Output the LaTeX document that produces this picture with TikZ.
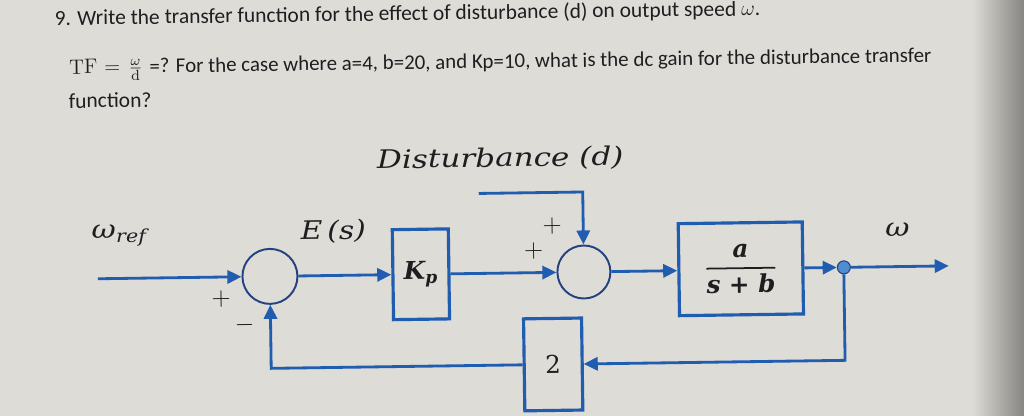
\documentclass[tikz,border=0pt]{standalone}
\usepackage{amssymb}
\usepackage{amsmath}
\usepackage{fontspec}
\usepackage{tikz}
\usetikzlibrary{arrows.meta}

\newfontfamily\qfont{Carlito}
\newfontfamily\mfont{DejaVu Serif}
\newcommand{\wide}[1]{\scalebox{1.17}[1]{#1}}

\definecolor{paper}{RGB}{222,220,214}
\definecolor{paperdark}{RGB}{135,133,130}
\definecolor{wireblue}{RGB}{32,92,176}
\definecolor{ringblue}{RGB}{36,66,130}
\definecolor{dotblue}{RGB}{80,140,210}
\definecolor{ink}{RGB}{30,30,32}

\begin{document}
\begin{tikzpicture}[x=0.2mm, y=-0.2mm,
    sig/.style={line width=1.6pt, draw=wireblue, -{Triangle[length=8pt, width=7.5pt]}},
    blk/.style={draw=wireblue, line width=1.8pt, inner sep=0pt, text=ink,
        font=\mfont\bfseries\itshape\fontsize{14}{16}\selectfont},
    sumnode/.style={circle, draw=ringblue, line width=1.1pt, minimum size=11mm, inner sep=0pt},
    lbl/.style={text=ink, font=\mfont\itshape\fontsize{14.5}{17}\selectfont},
    sgn/.style={text=ink, font=\fontsize{14}{16}\selectfont},
    qtext/.style={text=ink, anchor=base west, inner sep=0pt, font=\qfont\fontsize{12.2}{14}\selectfont}]
    \useasboundingbox (0,0) rectangle (1024,416);
    \fill[paper] (0,0) rectangle (1024,416);
    \shade[left color=paper, right color=paperdark] (972,0) rectangle (1024,416);

    \begin{scope}[rotate around={0.8:(512,208)}, transform shape]
    % question text
    \node[qtext] (q1) at (57,19) {9. Write the transfer function for the effect of disturbance (d) on output speed $\omega$.};
    \node[qtext, font=\qfont\fontsize{11.9}{14}\selectfont] (q2) at (71,68) {{\rmfamily TF =}\ \,$\frac{\omega}{\mathrm{d}}$\,\,=? For the case where a=4, b=20, and Kp=10, what is the dc gain for the disturbance transfer};
    \node[qtext] (q3) at (70,102) {function?};

    % blocks
    \node[sumnode] (sum1) at (269,273) {};
    \node[blk, minimum width=11.2mm, minimum height=18mm] (kp) at (420,273) {K\textsubscript{p}};
    \node[sumnode, minimum size=10.6mm] (sum2) at (583,273) {};
    \node[blk, minimum width=24.8mm, minimum height=18.4mm] (plant) at (740,272)
        {$\genfrac{}{}{1pt}{0}{\text{a}}{\text{s + b}}$};
    \node[circle, fill=dotblue, draw=ringblue, line width=0.6pt, minimum size=2.6mm, inner sep=0pt] (tap) at (843,272) {};
    \node[blk, font=\mfont\fontsize{14}{16}\selectfont, minimum width=11.6mm, minimum height=18.4mm] (fb) at (551,365) {2};
    \coordinate (in) at (97,273);
    \coordinate (out) at (948,272);
    \coordinate (dist) at (479,193);

    % labels
    \node[lbl] (dlab) at (501,159) {\scalebox{1.22}[1]{Disturbance (d)}};
    \node[lbl] (wref) at (119,230) {\wide{ω\textsubscript{ref}}};
    \node[lbl] (es) at (333,229) {\wide{E\,(s)}};
    \node[lbl] (wout) at (897,235) {\wide{ω}};
    \node[sgn] (p1) at (220,295) {$+$};
    \node[sgn] (m1) at (243,321) {$-$};
    \node[sgn] (p2) at (552,227) {$+$};
    \node[sgn] (p3) at (533,251) {$+$};

    % signals
    \draw[sig] (in) -- (sum1.west);
    \draw[sig] (sum1.east) -- (kp.west);
    \draw[sig] (kp.east) -- (sum2.west);
    \draw[sig] (dist) -| (sum2.north);
    \draw[sig] (sum2.east) -- (sum2.east -| plant.west);
    \draw[sig] (plant.east) -- (tap);
    \draw[sig] (tap) -- (out);
    \draw[sig] (tap) |- (fb.east);
    \draw[sig] (fb.west) -| (sum1.south);
    \end{scope}
\end{tikzpicture}
\end{document}
